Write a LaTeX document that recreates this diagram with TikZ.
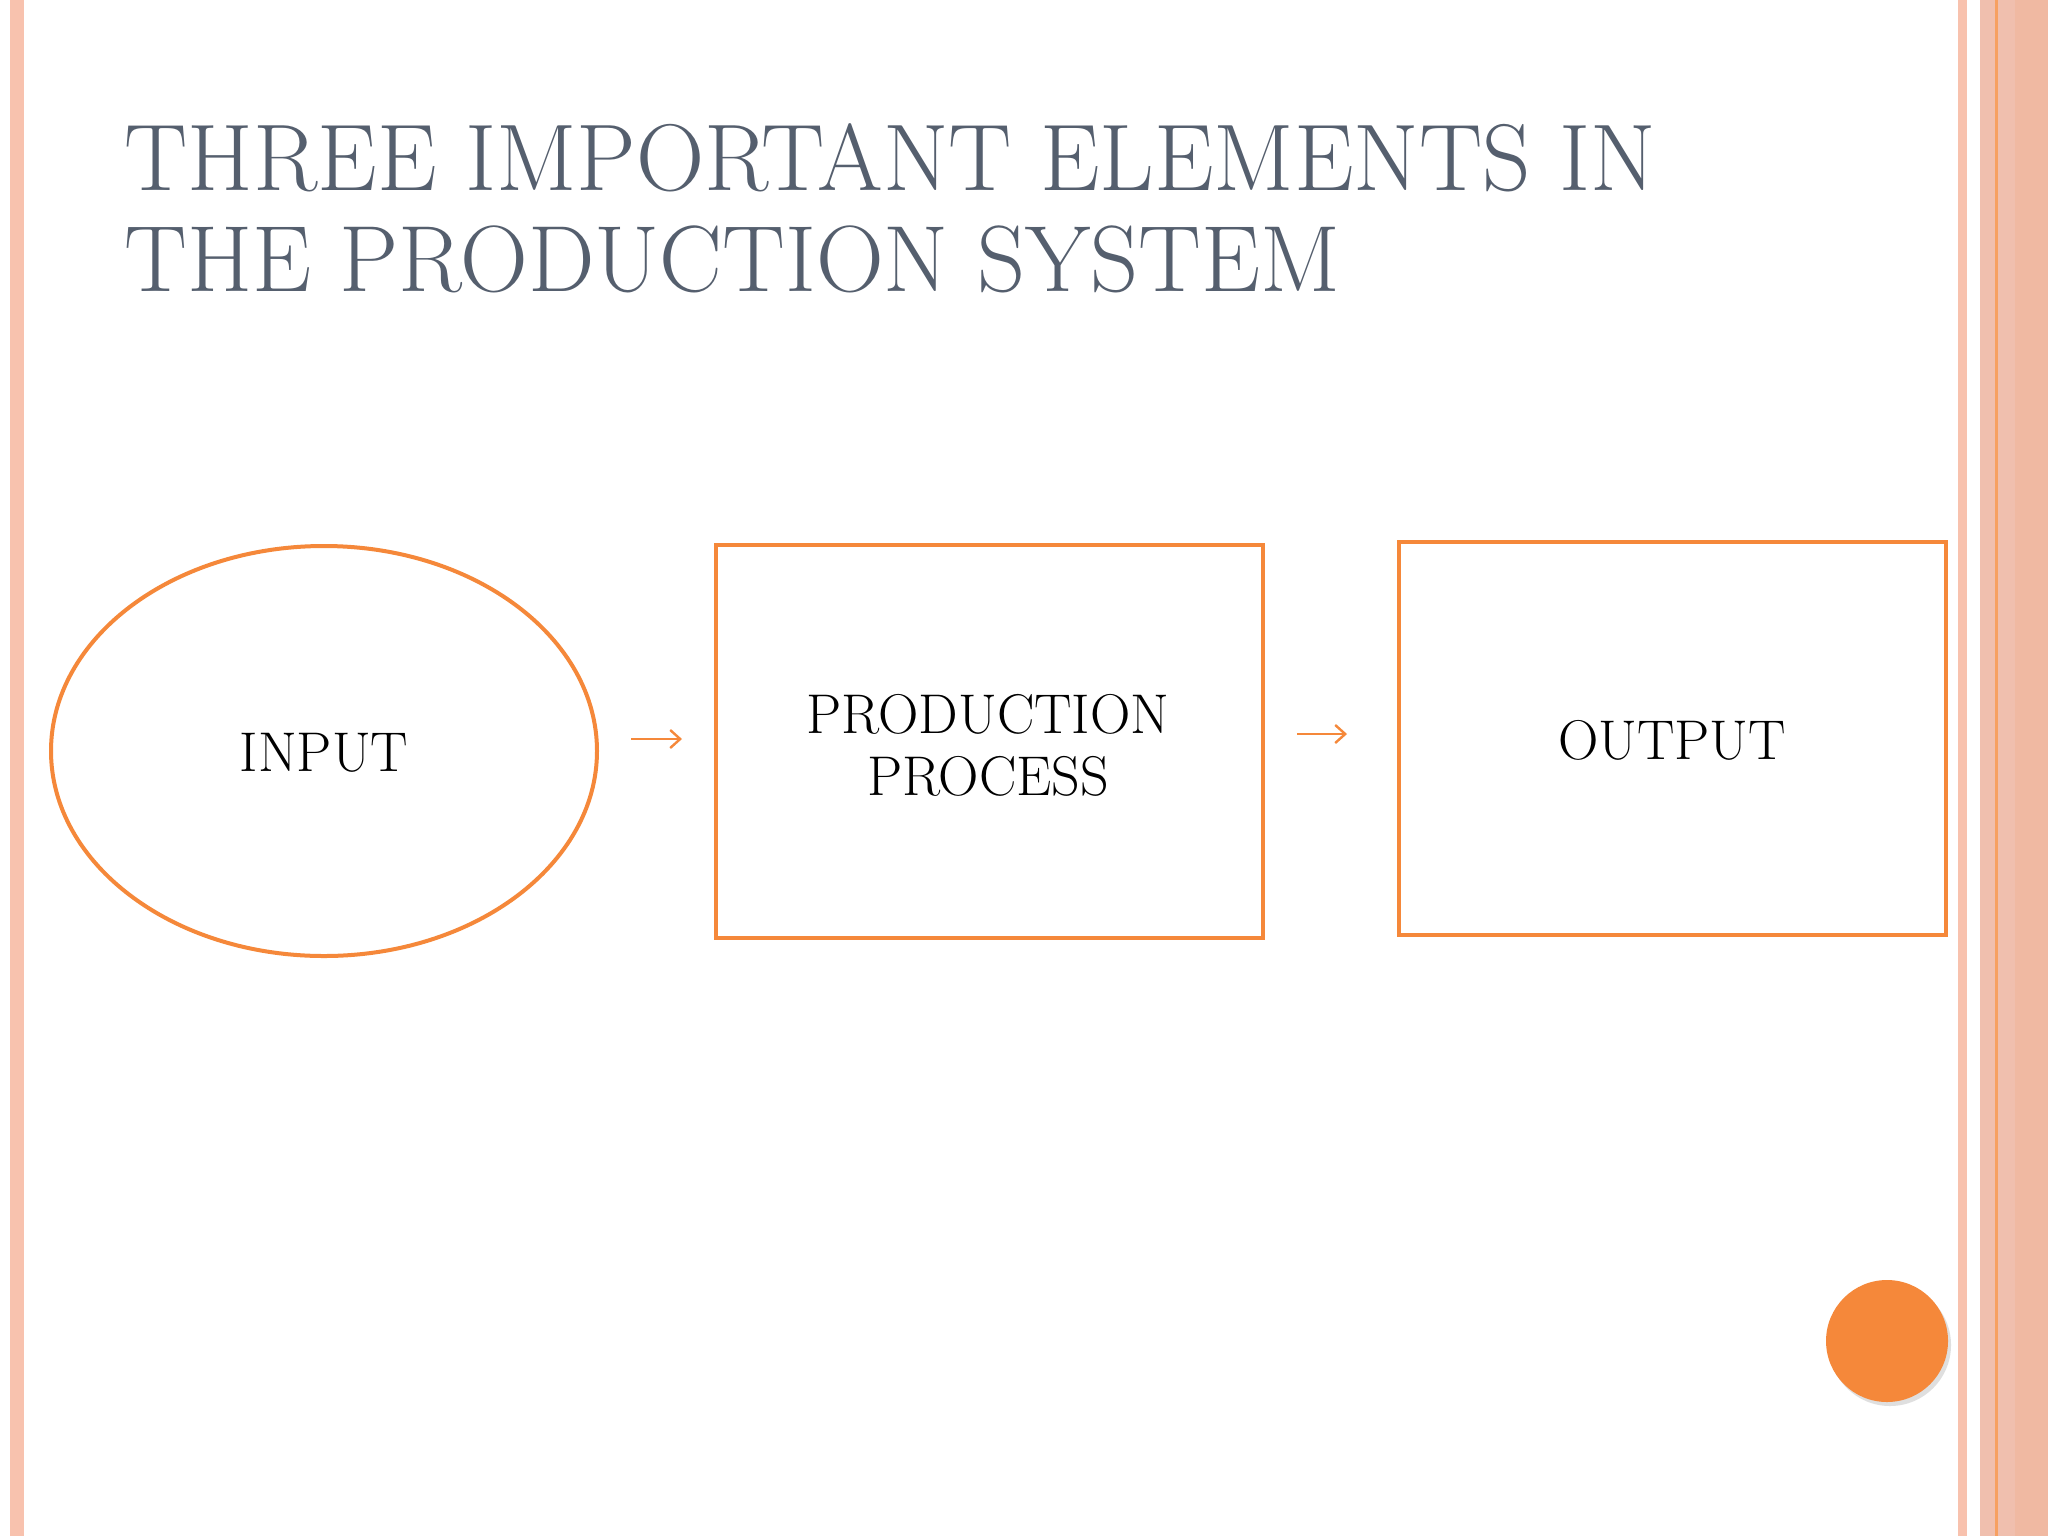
\documentclass[tikz,border=0pt]{standalone}
\usepackage{graphicx}
\usetikzlibrary{shapes.geometric,arrows.meta}
\definecolor{org}{HTML}{F5883A}
\definecolor{pinkl}{HTML}{F8C2AE}
\definecolor{pinkm}{HTML}{F0BFAE}
\definecolor{ttl}{HTML}{555F6E}
\begin{document}
\begin{tikzpicture}[x=0.5pt,y=-0.5pt,
  shp/.style={draw=org,line width=2pt},
  lbl/.style={font=\fontsize{28}{31}\selectfont,align=center,text=black},
  arr/.style={draw=org,line width=1.2pt,-{Straight Barb[length=5pt,width=9pt]}}]
\useasboundingbox (0,0) rectangle (2048,1536);
\fill[white] (0,0) rectangle (2048,1536);
\fill[pinkl] (10,0) rectangle (24,1536);
\fill[pinkl] (1958,0) rectangle (1967,1536);
\fill[pinkm] (1980,0) rectangle (2048,1536);
\fill[org!80] (1995,0) rectangle (1998,1536);
\fill[pinkm!90!org] (2015,0) rectangle (2048,1536);
\node[anchor=base west,text=ttl,inner sep=0] (t1) at (124,191) {\resizebox{766pt}{!}{\fontsize{50}{50}\selectfont THREE IMPORTANT ELEMENTS IN}};
\node[anchor=base west,text=ttl,inner sep=0] (t2) at (124,291) {\resizebox{608pt}{!}{\fontsize{50}{50}\selectfont THE PRODUCTION SYSTEM}};
\draw[shp] (324,751) ellipse [x radius=273, y radius=205];
\node[lbl] (in) at (324,753) {INPUT};
\draw[shp] (716,545) rectangle (1263,938);
\node[lbl] (pp) at (988,745) {PRODUCTION\\PROCESS};
\draw[shp] (1399,542) rectangle (1946,935);
\node[lbl] (out) at (1672,740) {OUTPUT};
\coordinate (a1) at (631,739); \coordinate (b1) at (682,739);
\coordinate (a2) at (1297,734); \coordinate (b2) at (1347,734);
\draw[arr] (a1) -- (b1);
\draw[arr] (a2) -- (b2);
\fill[gray!25] (1890,1345) circle (61);
\fill[org] (1887,1341) circle (61);
\end{tikzpicture}
\end{document}
